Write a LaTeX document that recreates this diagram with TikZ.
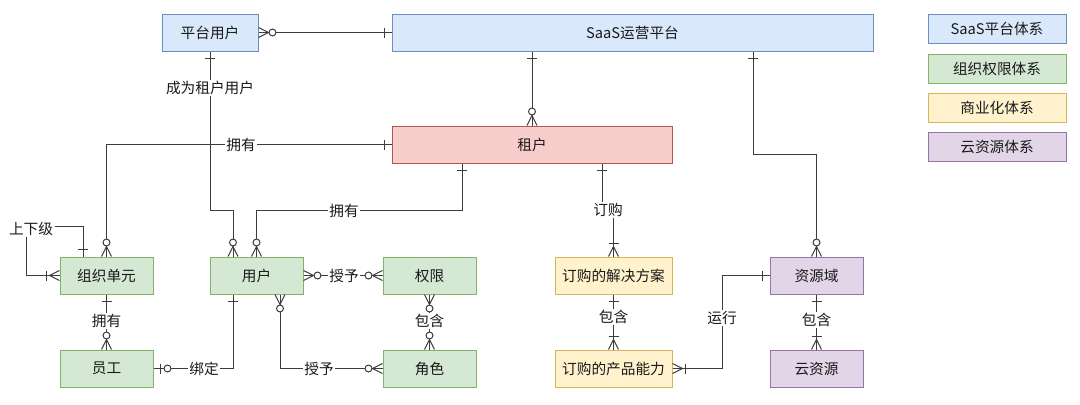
\documentclass[tikz,border=0pt]{standalone}
\usepackage{fontspec}
\setmainfont{Noto Sans CJK SC}
\usetikzlibrary{calc}
\definecolor{bfill}{HTML}{DAE8FC}\definecolor{bdraw}{HTML}{6C8EBF}
\definecolor{gfill}{HTML}{D5E8D4}\definecolor{gdraw}{HTML}{82B366}
\definecolor{yfill}{HTML}{FFF2CC}\definecolor{ydraw}{HTML}{D6B656}
\definecolor{pfill}{HTML}{E1D5E7}\definecolor{pdraw}{HTML}{9673A6}
\definecolor{rfill}{HTML}{F8CECC}\definecolor{rdraw}{HTML}{B85450}
\definecolor{lc}{HTML}{3C3C3C}
\definecolor{txt}{HTML}{1A1A1A}
\begin{document}
\begin{tikzpicture}[x=0.75pt,y=-0.75pt,
  box/.style={draw, line width=0.75pt, minimum height=27.75pt, inner sep=0pt, text=txt, font=\fontsize{11}{13}\selectfont},
  bluebox/.style={box, fill=bfill, draw=bdraw},
  greenbox/.style={box, fill=gfill, draw=gdraw},
  yellowbox/.style={box, fill=yfill, draw=ydraw},
  purplebox/.style={box, fill=pfill, draw=pdraw},
  redbox/.style={box, fill=rfill, draw=rdraw},
  legbox/.style={minimum height=21.75pt, minimum width=103.5pt},
  conn/.style={draw=lc, line width=0.75pt},
  erline/.style={draw=lc, line width=0.75pt},
  lbl/.style={fill=white, inner sep=1.2pt, text=txt, font=\fontsize{11}{13}\selectfont},
  erone/.pic={\draw[erline] (7,-5) -- (7,5);},
  erzmany/.pic={\draw[erline] (0,-5) -- (10,0) -- (0,5); \draw[erline,fill=white] (14,0) circle[radius=2.6pt];},
  eromany/.pic={\draw[erline] (0,-5) -- (10,0) -- (0,5); \draw[erline] (13,-5) -- (13,5);},
  erzone/.pic={\draw[erline] (7,-5) -- (7,5); \draw[erline,fill=white] (14,0) circle[radius=2.6pt];}
]
\useasboundingbox[fill=white] (0,0) rectangle (1080,404);

% boxes
\node[bluebox, minimum width=72pt] (pu) at (210,32.5) {平台用户};
\node[bluebox, minimum width=360.75pt] (saas) at (632.5,32.5) {SaaS运营平台};
\node[redbox, minimum width=210pt] (tenant) at (532,144.5) {租户};
\node[greenbox, minimum width=69.75pt] (org) at (106.5,275.5) {组织单元};
\node[greenbox, minimum width=69.75pt] (user) at (256.5,275.5) {用户};
\node[greenbox, minimum width=69.75pt] (perm) at (429.5,275.5) {权限};
\node[greenbox, minimum width=69.75pt] (emp) at (106.5,368.5) {员工};
\node[greenbox, minimum width=69.75pt] (role) at (429.5,368.5) {角色};
\node[yellowbox, minimum width=87.75pt] (sol) at (613.5,275.5) {订购的解决方案};
\node[yellowbox, minimum width=87.75pt] (cap) at (613.5,368.5) {订购的产品能力};
\node[purplebox, minimum width=69.75pt] (rd) at (816.5,275.5) {资源域};
\node[purplebox, minimum width=69.75pt] (cr) at (816.5,368.5) {云资源};

% legend
\node[bluebox, legbox] (lg1) at (997,28.5) {SaaS平台体系};
\node[greenbox, legbox] (lg2) at (997,68.5) {组织权限体系};
\node[yellowbox, legbox] (lg3) at (997,107.5) {商业化体系};
\node[purplebox, legbox] (lg4) at (997,146.5) {云资源体系};

% connectors
\draw[conn] (pu.east) -- (saas.west);
\draw[conn] (pu.south) -- (210,210) -- (233,210) -- ($(user.north)+(-23.5,0)$);
\draw[conn] (tenant.west) -- (106.5,144.5) -- (org.north);
\draw[conn] ($(tenant.south)+(-70,0)$) -- (462,210) -- (256.5,210) -- (user.north);
\draw[conn] ($(saas.south)+(-100.5,0)$) -- (tenant.north);
\draw[conn] ($(saas.south)+(120.5,0)$) -- (753,154) -- (816.5,154) -- (rd.north);
\draw[conn] ($(tenant.south)+(70,0)$) -- (602,210) -- (613.5,210) -- (sol.north);
\draw[conn] ($(org.north)+(-23.5,0)$) -- (83,226) -- (26,226) -- (26,275.5) -- (org.west);
\draw[conn] (org.south) -- (emp.north);
\draw[conn] (emp.east) -- (233,368.5) -- ($(user.south)+(-23.5,0)$);
\draw[conn] (user.east) -- (perm.west);
\draw[conn] ($(user.south)+(23.5,0)$) -- (280,368.5) -- (role.west);
\draw[conn] (perm.south) -- (role.north);
\draw[conn] (sol.south) -- (cap.north);
\draw[conn] (cap.east) -- (722,368.5) -- (722,275.5) -- (rd.west);
\draw[conn] (rd.south) -- (cr.north);

% end markers
\path (pu.east) pic[rotate=0]{erzmany};
\path (saas.west) pic[rotate=180]{erone};
\path (pu.south) pic[rotate=-90]{erone};
\path ($(user.north)+(-23.5,0)$) pic[rotate=90]{erzmany};
\path (tenant.west) pic[rotate=180]{erone};
\path (org.north) pic[rotate=90]{erzmany};
\path ($(tenant.south)+(-70,0)$) pic[rotate=-90]{erone};
\path (user.north) pic[rotate=90]{erzmany};
\path ($(saas.south)+(-100.5,0)$) pic[rotate=-90]{erone};
\path (tenant.north) pic[rotate=90]{erzmany};
\path ($(saas.south)+(120.5,0)$) pic[rotate=-90]{erone};
\path (rd.north) pic[rotate=90]{erzmany};
\path ($(tenant.south)+(70,0)$) pic[rotate=-90]{erone};
\path (sol.north) pic[rotate=90]{eromany};
\path ($(org.north)+(-23.5,0)$) pic[rotate=90]{erone};
\path (org.west) pic[rotate=180]{eromany};
\path (org.south) pic[rotate=-90]{erone};
\path (emp.north) pic[rotate=90]{erzmany};
\path (emp.east) pic[rotate=0]{erzone};
\path ($(user.south)+(-23.5,0)$) pic[rotate=-90]{erone};
\path (user.east) pic[rotate=0]{erzmany};
\path (perm.west) pic[rotate=180]{erzmany};
\path ($(user.south)+(23.5,0)$) pic[rotate=-90]{erzmany};
\path (role.west) pic[rotate=180]{erzmany};
\path (perm.south) pic[rotate=-90]{erzmany};
\path (role.north) pic[rotate=90]{erzmany};
\path (sol.south) pic[rotate=-90]{erone};
\path (cap.north) pic[rotate=90]{eromany};
\path (cap.east) pic[rotate=0]{eromany};
\path (rd.west) pic[rotate=180]{erone};
\path (rd.south) pic[rotate=-90]{erone};
\path (cr.north) pic[rotate=90]{eromany};

% labels
\node[lbl] (l1) at (210,88) {成为租户用户};
\node[lbl] (l2) at (241,145) {拥有};
\node[lbl] (l3) at (344,211) {拥有};
\node[lbl] (l4) at (608,210) {订购};
\node[lbl] (l5) at (31,229) {上下级};
\node[lbl] (l6) at (106.5,321) {拥有};
\node[lbl] (l7) at (204,368.5) {绑定};
\node[lbl] (l8) at (344,275.5) {授予};
\node[lbl] (l9) at (319,368.5) {授予};
\node[lbl] (l10) at (429.5,321) {包含};
\node[lbl] (l11) at (613.5,317) {包含};
\node[lbl] (l12) at (722,318) {运行};
\node[lbl] (l13) at (816.5,320) {包含};
\end{tikzpicture}
\end{document}
